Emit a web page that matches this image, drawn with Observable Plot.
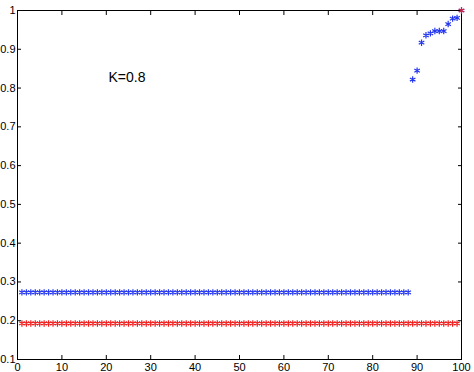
<!DOCTYPE html>
<html>
<head>
<meta charset="utf-8">
<script src="https://cdn.jsdelivr.net/npm/d3@7"></script>
<script src="https://cdn.jsdelivr.net/npm/@observablehq/plot@0.6"></script>
<style>
html, body { margin: 0; padding: 0; background: white; }
#chart svg { display: block; }
</style>
</head>
<body>
<div id="chart"></div>
<script>
const xIndex = [1,2,3,4,5,6,7,8,9,10,11,12,13,14,15,16,17,18,19,20,21,22,23,24,25,26,27,28,29,30,31,32,33,34,35,36,37,38,39,40,41,42,43,44,45,46,47,48,49,50,51,52,53,54,55,56,57,58,59,60,61,62,63,64,65,66,67,68,69,70,71,72,73,74,75,76,77,78,79,80,81,82,83,84,85,86,87,88,89,90,91,92,93,94,95,96,97,98,99,100];
const blueValues = [0.273,0.273,0.273,0.273,0.273,0.273,0.273,0.273,0.273,0.273,0.273,0.273,0.273,0.273,0.273,0.273,0.273,0.273,0.273,0.273,0.273,0.273,0.273,0.273,0.273,0.273,0.273,0.273,0.273,0.273,0.273,0.273,0.273,0.273,0.273,0.273,0.273,0.273,0.273,0.273,0.273,0.273,0.273,0.273,0.273,0.273,0.273,0.273,0.273,0.273,0.273,0.273,0.273,0.273,0.273,0.273,0.273,0.273,0.273,0.273,0.273,0.273,0.273,0.273,0.273,0.273,0.273,0.273,0.273,0.273,0.273,0.273,0.273,0.273,0.273,0.273,0.273,0.273,0.273,0.273,0.273,0.273,0.273,0.273,0.273,0.273,0.273,0.273,0.822,0.845,0.917,0.936,0.941,0.947,0.947,0.947,0.965,0.979,0.981,1.0];
const redValues = [0.193,0.193,0.193,0.193,0.193,0.193,0.193,0.193,0.193,0.193,0.193,0.193,0.193,0.193,0.193,0.193,0.193,0.193,0.193,0.193,0.193,0.193,0.193,0.193,0.193,0.193,0.193,0.193,0.193,0.193,0.193,0.193,0.193,0.193,0.193,0.193,0.193,0.193,0.193,0.193,0.193,0.193,0.193,0.193,0.193,0.193,0.193,0.193,0.193,0.193,0.193,0.193,0.193,0.193,0.193,0.193,0.193,0.193,0.193,0.193,0.193,0.193,0.193,0.193,0.193,0.193,0.193,0.193,0.193,0.193,0.193,0.193,0.193,0.193,0.193,0.193,0.193,0.193,0.193,0.193,0.193,0.193,0.193,0.193,0.193,0.193,0.193,0.193,0.193,0.193,0.193,0.193,0.193,0.193,0.193,0.193,0.193,0.193,0.193,1.0];
const xTicks = [0,10,20,30,40,50,60,70,80,90,100];
const yTicks = [0.1,0.2,0.3,0.4,0.5,0.6,0.7,0.8,0.9,1];
const annotation = [{x: 20.5, y: 0.827, label: "K=0.8"}];

const blueData = xIndex.map((x, i) => ({x, y: blueValues[i]}));
const redData = xIndex.map((x, i) => ({x, y: redValues[i]}));

const chart = Plot.plot({
  width: 474,
  height: 372,
  marginLeft: 17,
  marginRight: 13,
  marginTop: 10,
  marginBottom: 13,
  style: {fontFamily: "Liberation Sans, Arial, Helvetica, sans-serif", fontSize: "11px", color: "black", background: "white"},
  x: {domain: [0, 100], ticks: xTicks, label: null},
  y: {domain: [0.1, 1], ticks: yTicks, label: null},
  marks: [
    Plot.frame({stroke: "black", strokeWidth: 1}),
    Plot.axisY(yTicks, {anchor: "left", tickSize: 0, tickPadding: 2, label: null, tickFormat: d => String(+d.toFixed(1)), fontSize: 11}),
    Plot.axisY(yTicks, {anchor: "left", tickSize: -4, text: null, label: null}),
    Plot.axisY(yTicks, {anchor: "right", tickSize: -4, text: null, label: null}),
    Plot.axisX(xTicks, {anchor: "bottom", tickSize: 0, tickPadding: 4, label: null, tickFormat: d => String(d), fontSize: 11}),
    Plot.axisX(xTicks, {anchor: "bottom", tickSize: -4, text: null, label: null}),
    Plot.axisX(xTicks, {anchor: "top", tickSize: -4, text: null, label: null}),
    Plot.dot(blueData, {x: "x", y: "y", symbol: "asterisk", r: 3, stroke: "#2436f0", strokeWidth: 1.2}),
    Plot.dot(redData, {x: "x", y: "y", symbol: "asterisk", r: 3, stroke: "#f01c1c", strokeWidth: 1.2}),
    Plot.text(annotation, {x: "x", y: "y", text: "label", textAnchor: "start", fontSize: 14, fill: "black"})
  ]
});
document.getElementById("chart").appendChild(chart);
</script>
</body>
</html>
